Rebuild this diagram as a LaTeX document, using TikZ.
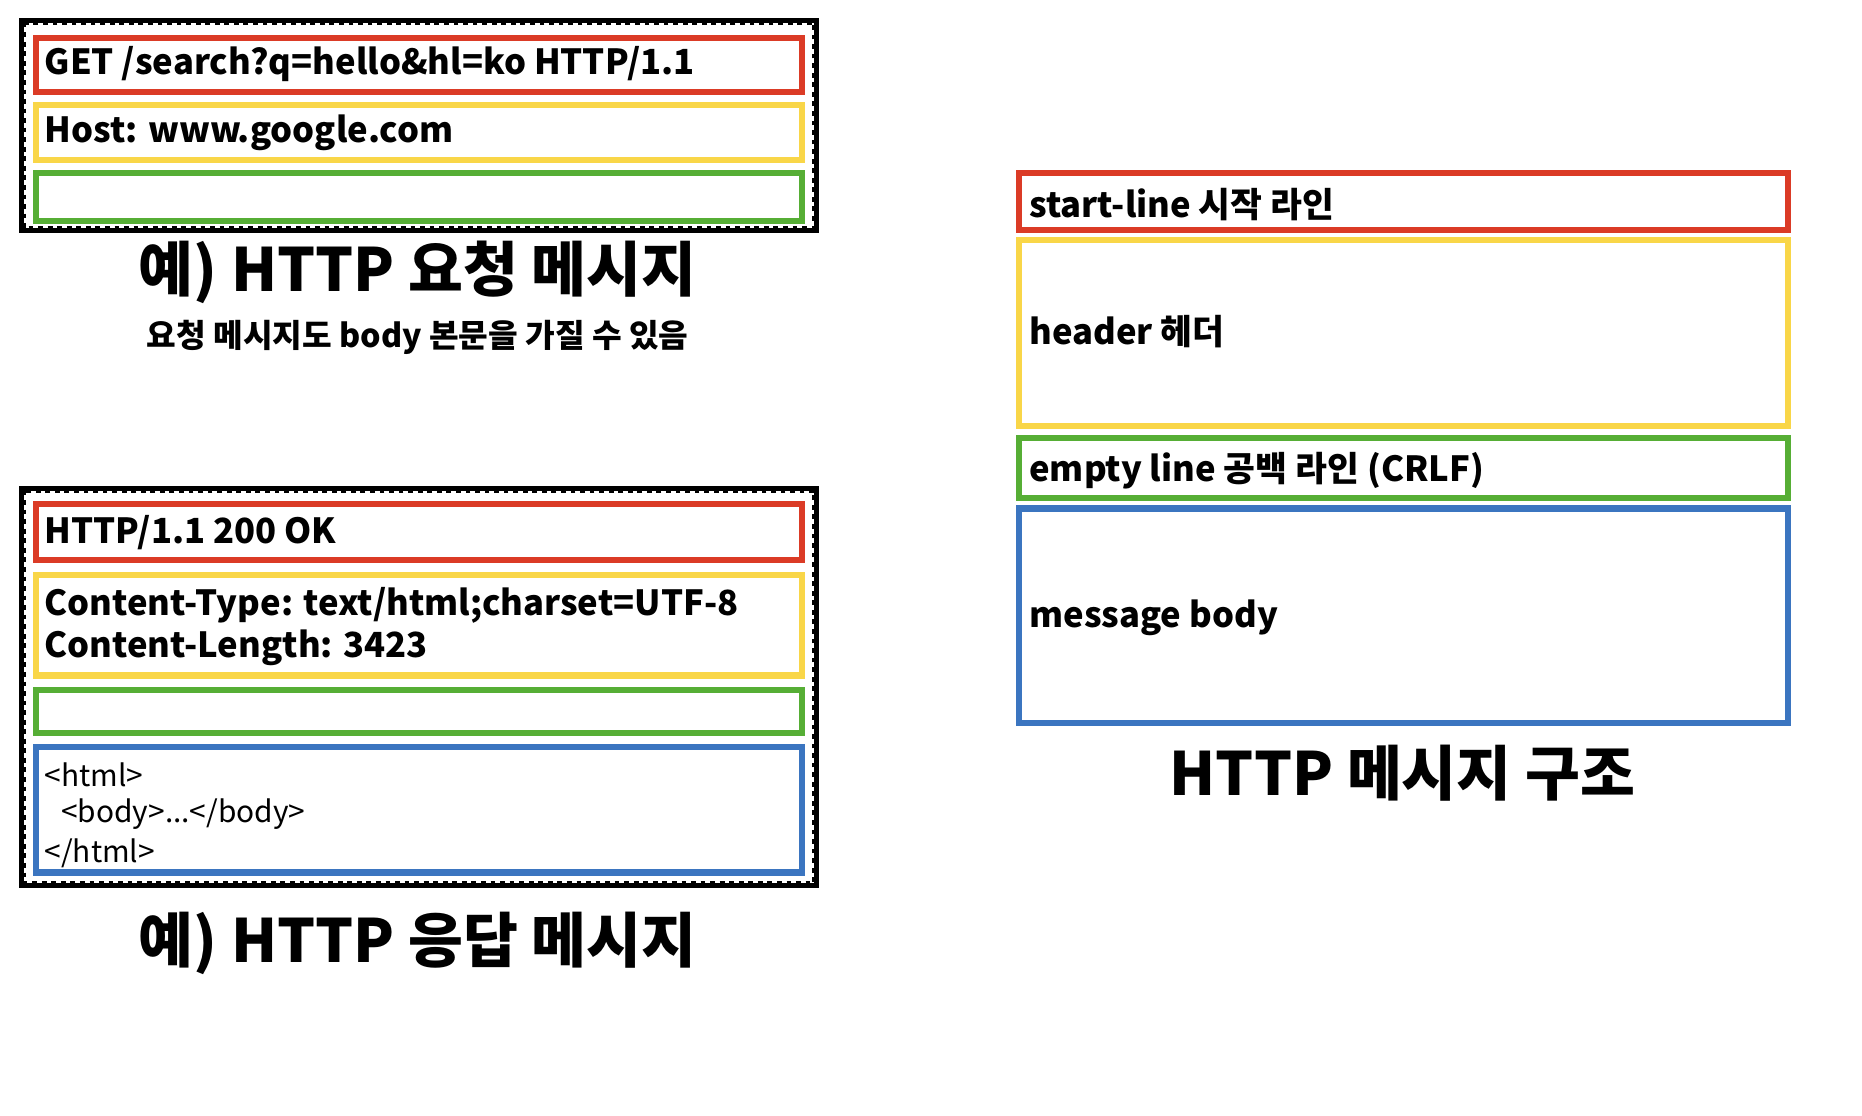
\documentclass[tikz,border=0pt]{standalone}
\usepackage{fontspec}
\setmainfont{Noto Sans CJK KR}
\definecolor{cred}{HTML}{DB3B26}
\definecolor{cyel}{HTML}{F9D648}
\definecolor{cgrn}{HTML}{56AE35}
\definecolor{cblu}{HTML}{3B75C0}
\begin{document}
\begin{tikzpicture}[x=0.5pt,y=-0.5pt,
  bx/.style={line width=2.6pt},
  frm/.style={line width=2pt,draw=black},
  txt/.style={anchor=west,font=\fontsize{14.5}{18}\selectfont\bfseries,inner sep=0pt},
  ttl/.style={font=\fontsize{25}{30}\selectfont\bfseries,inner sep=0pt},
  sub/.style={font=\fontsize{13.5}{16}\selectfont\bfseries,inner sep=0pt}]
\useasboundingbox (0,0) rectangle (1560,935);
% request
\draw[frm] (18,17) rectangle (684,193);
\draw[frm,dotted] (20,19) rectangle (682,191);
\draw[bx,draw=cred] (30,32) rectangle (672,77);
\draw[bx,draw=cyel] (30,88) rectangle (672,134);
\draw[bx,draw=cgrn] (30,145) rectangle (672,185);
\node[txt] (r1) at (37,54) {GET /search?q=hello\&hl=ko HTTP/1.1};
\node[txt] (r2) at (37,111) {Host: www.google.com};
\node[ttl] (t1) at (350,228) {예) HTTP 요청 메시지};
\node[sub] (s1) at (350,283) {요청 메시지도 body 본문을 가질 수 있음};
% response
\draw[frm] (18,409) rectangle (684,742);
\draw[frm,dotted] (20,411) rectangle (682,740);
\draw[bx,draw=cred] (30,422) rectangle (672,469);
\draw[bx,draw=cyel] (30,482) rectangle (672,566);
\draw[bx,draw=cgrn] (30,578) rectangle (672,614);
\draw[bx,draw=cblu] (30,626) rectangle (672,731);
\node[txt] (p1) at (37,446) {HTTP/1.1 200 OK};
\node[txt] (p2) at (37,507) {Content-Type: text/html;charset=UTF-8};
\node[txt] (p3) at (37,543) {Content-Length: 3423};
\node[txt,font=\fontsize{12.5}{15}\selectfont] (p4) at (37,649) {<html>};
\node[txt,font=\fontsize{12.5}{15}\selectfont] (p5) at (51,682) {<body>...</body>};
\node[txt,font=\fontsize{12.5}{15}\selectfont] (p6) at (37,715) {</html>};
\node[ttl] (t2) at (350,790) {예) HTTP 응답 메시지};
% structure
\draw[bx,draw=cred] (854,145) rectangle (1498,193);
\draw[bx,draw=cyel] (854,201) rectangle (1498,357);
\draw[bx,draw=cgrn] (854,367) rectangle (1498,417);
\draw[bx,draw=cblu] (854,426) rectangle (1498,606);
\node[txt] (h1) at (862,171) {start-line 시작 라인};
\node[txt] (h2) at (862,278) {header 헤더};
\node[txt] (h3) at (862,394) {empty line 공백 라인 (CRLF)};
\node[txt] (h4) at (862,518) {message body};
\node[ttl] (t3) at (1175,648) {HTTP 메시지 구조};
\end{tikzpicture}
\end{document}
